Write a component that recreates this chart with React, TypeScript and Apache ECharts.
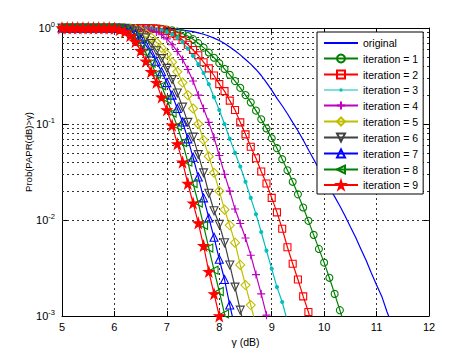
import React, { useEffect, useRef } from "react";
import * as echarts from "echarts";

const gamma = [
  5.0, 5.1, 5.2, 5.3, 5.4, 5.5, 5.6, 5.7, 5.8, 5.9,
  6.0, 6.1, 6.2, 6.3, 6.4, 6.5, 6.6, 6.7, 6.8, 6.9,
  7.0, 7.1, 7.2, 7.3, 7.4, 7.5, 7.6, 7.7, 7.8, 7.9,
  8.0, 8.1, 8.2, 8.3, 8.4, 8.5, 8.6, 8.7, 8.8, 8.9,
  9.0, 9.1, 9.2, 9.3, 9.4, 9.5, 9.6, 9.7, 9.8, 9.9,
  10.0, 10.1, 10.2, 10.3, 10.4, 10.5, 10.6, 10.7, 10.8, 10.9,
  11.0, 11.1, 11.2, 11.3,
];

const original = [
  1, 1, 1, 1, 1, 1, 1, 1, 1, 1,
  1, 1, 1, 1, 1, 0.999, 0.998, 0.996, 0.993, 0.988,
  0.98, 0.972, 0.962, 0.95, 0.935, 0.915, 0.89, 0.86, 0.825, 0.785,
  0.74, 0.69, 0.635, 0.58, 0.525, 0.47, 0.42, 0.37, 0.32, 0.27,
  0.225, 0.185, 0.155, 0.128, 0.104, 0.085, 0.068, 0.054, 0.043, 0.034,
  0.027, 0.022, 0.0175, 0.014, 0.011, 0.0085, 0.0066, 0.005, 0.0038, 0.0028,
  0.0021, 0.0016, 0.0011, 0.0008,
];
const iter1 = [
  1, 1, 1, 1, 1, 1, 1, 1, 1, 1,
  1, 1, 1, 1, 1, 1, 1, 0.995, 0.99, 0.98,
  0.965, 0.945, 0.915, 0.875, 0.825, 0.765, 0.695, 0.625, 0.555, 0.49,
  0.43, 0.375, 0.325, 0.28, 0.238, 0.2, 0.168, 0.138, 0.112, 0.09,
  0.071, 0.056, 0.043, 0.033, 0.025, 0.0185, 0.0135, 0.0098, 0.007, 0.005,
  0.0036, 0.0025, 0.0017, 0.00115, 0.00078,
];
const iter2 = [
  1, 1, 1, 1, 1, 1, 1, 1, 1, 1,
  1, 1, 1, 1, 1, 1, 0.999, 0.995, 0.985, 0.965,
  0.93, 0.88, 0.82, 0.75, 0.67, 0.59, 0.52, 0.44, 0.38, 0.32,
  0.26, 0.22, 0.175, 0.14, 0.104, 0.078, 0.058, 0.044, 0.032, 0.024,
  0.017, 0.012, 0.0081, 0.0052, 0.0035, 0.0024, 0.0016, 0.0011, 0.0007,
];
const iter3 = [
  1, 1, 1, 1, 1, 1, 1, 1, 1, 1,
  1, 1, 1, 1, 1, 0.998, 0.994, 0.985, 0.97, 0.945,
  0.91, 0.86, 0.79, 0.71, 0.61, 0.51, 0.42, 0.34, 0.26, 0.19,
  0.14, 0.1, 0.07, 0.05, 0.036, 0.025, 0.017, 0.0115, 0.0075, 0.0048,
  0.0031, 0.002, 0.0014, 0.00088, 0.0006,
];
const iter4 = [
  1, 1, 1, 1, 1, 1, 1, 1, 1, 1,
  1, 1, 1, 1, 0.998, 0.99, 0.975, 0.95, 0.91, 0.85,
  0.77, 0.67, 0.57, 0.47, 0.37, 0.28, 0.2, 0.145, 0.104, 0.072,
  0.047, 0.03, 0.02, 0.013, 0.0092, 0.0065, 0.0043, 0.0027, 0.0017, 0.00102,
  0.0006,
];
const iter5 = [
  1, 1, 1, 1, 1, 1, 1, 1, 1, 1,
  1, 1, 0.998, 0.99, 0.97, 0.94, 0.88, 0.8, 0.71, 0.62,
  0.53, 0.44, 0.35, 0.27, 0.2, 0.145, 0.1, 0.068, 0.046, 0.031,
  0.02, 0.0128, 0.0088, 0.0058, 0.0034, 0.0021, 0.0013, 0.0008,
];
const iter6 = [
  1, 1, 1, 1, 1, 1, 1, 1, 1, 1,
  1, 0.998, 0.99, 0.97, 0.93, 0.87, 0.79, 0.69, 0.58, 0.48,
  0.38, 0.29, 0.21, 0.15, 0.104, 0.073, 0.048, 0.031, 0.019, 0.0125,
  0.009, 0.0058, 0.0034, 0.002, 0.00115, 0.0007,
];
const iter7 = [
  1, 1, 1, 1, 1, 1, 1, 1, 1, 1,
  0.998, 0.99, 0.97, 0.93, 0.86, 0.77, 0.66, 0.55, 0.45, 0.35,
  0.27, 0.2, 0.145, 0.105, 0.07, 0.045, 0.028, 0.017, 0.0105, 0.0066,
  0.0039, 0.0024, 0.0013, 0.00075,
];
const iter8 = [
  1, 1, 1, 1, 1, 1, 1, 1, 1, 1,
  0.995, 0.98, 0.95, 0.89, 0.8, 0.68, 0.55, 0.43, 0.33, 0.25,
  0.18, 0.13, 0.095, 0.064, 0.04, 0.024, 0.015, 0.0088, 0.0051, 0.003,
  0.0018, 0.00105, 0.0006,
];
const iter9 = [
  1, 1, 1, 1, 1, 1, 1, 1, 1, 1,
  0.99, 0.96, 0.91, 0.83, 0.72, 0.58, 0.45, 0.35, 0.27, 0.19,
  0.14, 0.097, 0.062, 0.04, 0.024, 0.015, 0.0093, 0.0054, 0.0029, 0.0017,
  0.001, 0.00055,
];

const seriesNames = [
  "original",
  "iteration = 1",
  "iteration = 2",
  "iteration = 3",
  "iteration = 4",
  "iteration = 5",
  "iteration = 6",
  "iteration = 7",
  "iteration = 8",
  "iteration = 9",
];
const xTicks = [5, 6, 7, 8, 9, 10, 11, 12];
const minorGridValues = [
  0.002, 0.003, 0.004, 0.005, 0.006, 0.007, 0.008, 0.009,
  0.02, 0.03, 0.04, 0.05, 0.06, 0.07, 0.08, 0.09,
  0.2, 0.3, 0.4, 0.5, 0.6, 0.7, 0.8, 0.9,
];
const yAxisTitle = "Prob(PAPR(dB)>γ)";
const xAxisTitle = "γ (dB)";

const FONT = 'Arial, "Liberation Sans", Helvetica, sans-serif';
const STAR = "path://M50,0 L61,35 L98,35 L68,57 L79,91 L50,70 L21,91 L32,57 L2,35 L39,35 Z";
const PLUS = "path://M5,0 L5,10 M0,5 L10,5";
// legend icon for iteration 3: line with a tiny dot (the tiny segments at y=0/10 fix the icon's box)
const DOT_LINE_ICON =
  "path://M0,0 L0.01,0 L0,0.01 Z M0,10 L0.01,10 L0,9.99 Z M0,4.4 L34,4.4 L34,5.6 L0,5.6 Z M15.6,3.6 L18.4,3.6 L18.4,6.4 L15.6,6.4 Z";
const DOT_GRID = { type: [2, 3] as any, color: "#333", width: 1 };

const toPairs = (p: number[]) => p.map((v, i) => [gamma[i], v]);

type Spec = {
  data: number[];
  color: string;
  symbol: string;
  size: number;
  rotate?: number;
  filled?: boolean;
};

const specs: Spec[] = [
  { data: original, color: "#0000ff", symbol: "none", size: 0 },
  { data: iter1, color: "#008000", symbol: "circle", size: 7 },
  { data: iter2, color: "#ff0000", symbol: "rect", size: 7 },
  { data: iter3, color: "#00bfbf", symbol: "circle", size: 3, filled: true },
  { data: iter4, color: "#bf00bf", symbol: PLUS, size: 8 },
  { data: iter5, color: "#bfbf00", symbol: "diamond", size: 9 },
  { data: iter6, color: "#404040", symbol: "triangle", size: 8, rotate: 180 },
  { data: iter7, color: "#0000ff", symbol: "triangle", size: 8 },
  { data: iter8, color: "#008000", symbol: "triangle", size: 8, rotate: 90 },
  { data: iter9, color: "#ff0000", symbol: STAR, size: 10, filled: true },
];

export default function App() {
  const ref = useRef<HTMLDivElement>(null);
  useEffect(() => {
    if (!ref.current) return;
    const chart = echarts.init(ref.current, undefined, { renderer: "svg" });

    const series: any[] = specs.map((s, i) => ({
      name: seriesNames[i],
      type: "line",
      data: toPairs(s.data),
      symbol: s.symbol,
      symbolSize: s.size,
      symbolRotate: s.rotate || 0,
      showSymbol: s.symbol !== "none",
      lineStyle: { color: s.color, width: 1.2 },
      itemStyle: {
        color: s.filled ? s.color : "none",
        borderColor: s.color,
        borderWidth: 1.1,
      },
      emphasis: { disabled: true },
      clip: true,
      z: 3,
    }));

    series.push({
      name: "grid-minor",
      type: "line",
      data: [[5, 1]],
      symbol: "none",
      lineStyle: { opacity: 0 },
      z: 1,
      markLine: {
        silent: true,
        z: 1,
        symbol: ["none", "none"],
        label: { show: false },
        lineStyle: DOT_GRID,
        emphasis: { disabled: true },
        data: minorGridValues.map((v) => ({ yAxis: v })),
      },
    });

    const legendData: any[] = seriesNames.map((n, i) => {
      if (i === 0)
        return {
          name: n,
          itemStyle: { color: "transparent", borderColor: "transparent", borderWidth: 0, opacity: 0 },
        };
      if (i === 3)
        return {
          name: n,
          icon: DOT_LINE_ICON,
          itemStyle: { color: "#00bfbf", borderWidth: 0 },
        };
      return { name: n };
    });

    const axisLine = { show: true, onZero: false, lineStyle: { color: "#000", width: 1 } };
    const tick = { show: true, inside: true, length: 5, lineStyle: { color: "#000", width: 1 } };

    chart.setOption({
      animation: false,
      backgroundColor: "#ffffff",
      textStyle: { fontFamily: FONT },
      grid: { left: 62, top: 28, width: 367, height: 288 },
      graphic: [
        {
          type: "text",
          x: 28,
          y: 152,
          rotation: Math.PI / 2,
          silent: true,
          style: {
            text: yAxisTitle,
            fontSize: 9.5,
            fontFamily: FONT,
            fill: "#000",
            textAlign: "center",
            textVerticalAlign: "middle",
          },
        },
      ],
      legend: {
        data: legendData,
        z: 20,
        orient: "vertical",
        left: 317,
        top: 32,
        padding: [5, 5, 3, 6],
        itemWidth: 34,
        itemHeight: 10,
        itemGap: 3,
        backgroundColor: "#ffffff",
        borderColor: "#000",
        borderWidth: 1,
        borderRadius: 0,
        textStyle: { fontSize: 10.5, color: "#000", fontFamily: FONT, lineHeight: 12 },
        selectedMode: false,
      },
      xAxis: [
        {
          type: "value",
          min: xTicks[0],
          max: xTicks[xTicks.length - 1],
          interval: 1,
          position: "bottom",
          name: xAxisTitle,
          nameLocation: "middle",
          nameGap: 19,
          nameTextStyle: { fontSize: 10.5, color: "#000", fontFamily: FONT },
          axisLine,
          axisTick: tick,
          axisLabel: { color: "#000", fontSize: 11, margin: 5, fontFamily: FONT },
          splitLine: { show: true, lineStyle: DOT_GRID },
        },
        {
          type: "value",
          min: xTicks[0],
          max: xTicks[xTicks.length - 1],
          interval: 1,
          position: "top",
          axisLine,
          axisTick: tick,
          axisLabel: { show: false },
          splitLine: { show: false },
        },
      ],
      yAxis: [
        {
          type: "log",
          logBase: 10,
          min: 0.001,
          max: 1,
          position: "left",
          axisLine,
          axisTick: tick,
          axisLabel: {
            color: "#000",
            fontSize: 11,
            margin: 7,
            fontFamily: FONT,
            formatter: (v: number) => "10{sup|" + Math.round(Math.log10(v)) + "}",
            rich: {
              sup: { fontSize: 7.5, padding: [0, 0, 7, 0], color: "#000", fontFamily: FONT },
            },
          },
          splitLine: { show: true, lineStyle: DOT_GRID },
        },
        {
          type: "log",
          logBase: 10,
          min: 0.001,
          max: 1,
          position: "right",
          axisLine,
          axisTick: tick,
          axisLabel: { show: false },
          splitLine: { show: false },
        },
      ],
      series,
    });
    return () => chart.dispose();
  }, []);
  return (
    <div
      ref={ref}
      style={{ position: "absolute", left: 0, top: 0, width: 474, height: 355, background: "#fff" }}
    />
  );
}
